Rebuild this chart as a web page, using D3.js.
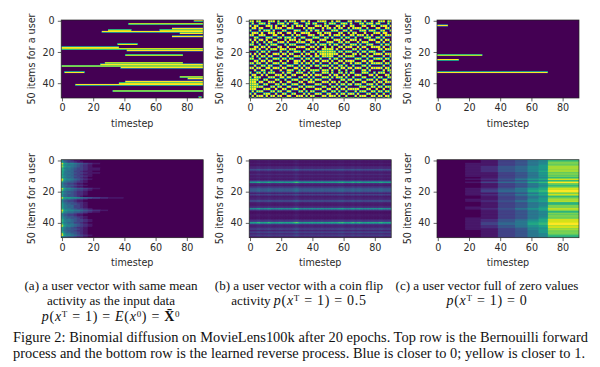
<!DOCTYPE html>
<html>
<head>
<meta charset="utf-8">
<script src="https://cdn.jsdelivr.net/npm/d3@7"></script>
<style>
  html, body { margin: 0; padding: 0; background: #fff; }
  svg { display: block; }
  .tick text, .axis-label { font-family: "DejaVu Sans", sans-serif; font-size: 9.6px; fill: #2a2a2a; }
  .caption { font-family: "Liberation Serif", serif; font-size: 13.1px; fill: #111; }
</style>
</head>
<body>
<div id="chart"></div>
<script>
// Tick labels and titles
const xTicks = [0, 20, 40, 60, 80];
const yTicks = [0, 20, 40];
const xLabel = "timestep";
const yLabel = "50 items for a user";

// Top left: switched-on runs, [row, first column, last column]
const forwardMeanRuns = [
  [0, 85, 90], [2, 43, 90], [5, 71, 90], [6, 30, 44], [6, 63, 90], [7, 26, 90], [8, 76, 90],
  [10, 71, 90], [15, 36, 48], [17, 0, 36], [18, 0, 90], [19, 42, 90], [22, 41, 77],
  [27, 28, 77], [28, 25, 90], [29, 0, 90], [30, 38, 90], [33, 2, 14], [36, 76, 90],
  [37, 81, 90], [39, 41, 90], [40, 37, 90], [41, 9, 90], [45, 33, 90], [49, 88, 89]
];

// Top middle: coin flip activity, 1 is yellow. Single cells cannot be told apart
// in the picture, so this is read in blocks of 1.5 columns by 1.5 rows
const coinBlock = 1.5;
const forwardCoinRows = [
  "1101100011101001011100110100011110010110001101110100100111011",
  "0100111010001110100110001101100010111001110100011011101100010",
  "1011000111010011001011101000111011000110100110001100110011101",
  "0110110001011100111000010111000101101011001011110010001100110",
  "1000101110100011000111001010110100011100110100011101110011001",
  "0111010011101100110100111100011011100011001011000100011101100",
  "1100111000110010001011000111001100101110100110111010100010111",
  "0011000111001101110100110001110011010001011001000111001101000",
  "1010110100110001011101001110001110001110100111010001110010110",
  "0101001011001110100011110011010001110011011000101110001101001",
  "1100100101110001011100001100101110101100100111010011100010110",
  "0011011010001100100011110011010010010011011100101100111101001",
  "1110100101110111011100001100100111110100100011010010000110111",
  "0001011010000100100111010011011111111011011100101101110001000",
  "1010100100111011011000101100101111111100100011010010011110111",
  "0101011011000100100111010010110111110011011110001101100001001",
  "1100100100111011011000101101001000101100100001110010011110110",
  "0011011011000100100111010010110111010011011110001101100001001",
  "1101100100111011000110101101001000101100100101110010111110110",
  "0010011011000100111001010010110111010011010010001101000001001",
  "1101100110111011000110101100001000101101101101110010111110110",
  "0010011001000100111001010011110111010010010010001101000001011",
  "1001101011100010110011100101000111010011010110001110010111001",
  "0110010100011101001100011010111000101100101001110001101000110",
  "1011100011100110110001100101000111010111010010001100010110011",
  "1111001100011001001110011010111000100001101101110011101001100",
  "1110110011100100110001100111000111011010010010001100010110111",
  "1111001100011011001110010000111000100101101101110011101001000",
  "1111110001101100110001101111000110011010010000011100110110111",
  "1110001110010011001110010000111001100101101111100011001001001",
  "0101110001101100110001101011000110011010010001011100110110110",
  "1010001110010011001100010100111001100101101110100011001001001",
  "0101110101101100110011101011000110111010010001011100110110110",
  "1010001010010011001100010100111001000101101110100011001001011"
];

// Top right: switched-on runs
const forwardZeroRuns = [[3, 0, 6], [22, 0, 28], [25, 0, 13], [33, 0, 70]];

// Bottom left: one hex digit per time bin, per row (f is 1)
const reverseMeanEdges = [0, 1, 2, 3, 4, 6, 8, 10, 12, 14, 17, 20, 25, 30, 40, 91];
const reverseMeanRows = [
  "854432110000000", "965433211000000", "fa8877654321000", "c97766543210000", "da8776543210000",
  "a86665433211000", "a97665433211000", "986655332110000", "a86665433211000", "976655332110000",
  "a87665433210000", "976655332100000", "fa8776543210000", "e97665432100000", "865544322100000",
  "754433211000000", "865544322100000", "765443211000000", "ea8776544321000", "c97665433210000",
  "865544322100000", "976554322100000", "865544322100000", "965544321000000", "fa9998876543210",
  "976554322100000", "754433211000000", "865544322100000", "976554432100000", "976655332100000",
  "976655332100000", "a86665433210000", "fa8877665432100", "d97766554321000", "865544322100000",
  "754433211000000", "865544322100000", "976554432100000", "a86665433210000", "a87665433210000",
  "976655332100000", "c97766543210000", "fa8776543210000", "976554322100000", "976554432100000",
  "865544322100000", "a86554432100000", "e97665432100000", "fa8776543210000", "865544322100000"
];

// Bottom middle: row brightness and how each step lifts it
const reverseCoinLevels = [
  0.08, 0.06, 0.08, 0.06, 0.1, 0.12, 0.25, 0.1, 0.08, 0.12,
  0.08, 0.1, 0.08, 0.15, 0.55, 0.12, 0.08, 0.15, 0.25, 0.3,
  0.25, 0.1, 0.2, 0.08, 0.1, 0.12, 0.25, 0.1, 0.08, 0.08,
  0.15, 0.5, 0.12, 0.05, 0.05, 0.08, 0.06, 0.06, 0.1, 0.2,
  0.62, 0.15, 0.1, 0.12, 0.2, 0.1, 0.2, 0.12, 0.18, 0.1
];
const reverseCoinGain = [
  0.95, 0.95, 1, 0.95, 1, 1.1, 1.15, 1, 0.95, 1, 1, 1.05, 1.15, 1.05, 1, 0.95, 0.95, 1,
  1, 1.05, 1.05, 1, 0.95, 1, 1, 1, 1, 1.05, 1.1, 1.25, 1.3, 1.15, 1, 0.95, 0.95, 1,
  1, 0.95, 1, 1, 1.05, 1, 0.95, 1, 1, 1, 1.05, 1, 0.95, 1, 1, 1, 1.05, 1.05, 1,
  1, 1.05, 1.15, 1.1, 1.2, 1.1, 1, 0.95, 1, 1, 1.1, 1.2, 1.05, 1, 1.1, 1.15, 1.05, 1,
  0.95, 1, 1, 1.05, 1, 1, 1.05, 1, 1, 1, 1.1, 1.15, 1.05, 1, 0.95, 1, 1, 1.05
];

// Bottom right: one hex digit per time bin, per row
const reverseZeroEdges = [0, 18, 28, 39, 50, 58, 65, 71, 91];
const reverseZeroRows = [
  "0013467a", "0013467c", "0113467c", "0113468c", "0124578d", "0124578d", "0124578d", "0124579d", "0113468c", "0113468c",
  "0113468c", "0013467a", "0124689e", "0013467a", "013569af", "0013468c", "0013467a", "0013468c", "0124689e", "013569af",
  "013569af", "0113468c", "0124689e", "0013467a", "0013468c", "0113478d", "0124689e", "0013467a", "0013467a", "0013467c",
  "0113468c", "0124689e", "0013468c", "0013467a", "0013467c", "0013467c", "0013467c", "0113468c", "0124579e", "0124689e",
  "013569af", "013569af", "0124689e", "0124578e", "0113478d", "0013468c", "0013468c", "0013467c", "0013467a", "0013467a"
];

// Caption text, runs are [text, style]
const subCaptions = [
  { cx: 111, lines: [
    [["(a) a user vector with same mean", ""]],
    [["activity as the input data", ""]],
    [["p", "i"], ["(", "m"], ["x", "i"], ["T", "sup"], [" = 1) = ", "m"], ["E", "i"], ["(", "m"], ["x", "i"], ["0", "sup"], [") = ", "m"], ["X\u0304", "b"], ["0", "sup"]]
  ]},
  { cx: 299, lines: [
    [["(b) a user vector with a coin flip", ""]],
    [["activity ", ""], ["p", "i"], ["(", "m"], ["x", "i"], ["T", "sup"], [" = 1) = 0.5", "m"]]
  ]},
  { cx: 487, lines: [
    [["(c) a user vector full of zero values", ""]],
    [["p", "i"], ["(", "m"], ["x", "i"], ["T", "sup"], [" = 1) = 0", "m"]]
  ]}
];
const figureCaption = [
  "Figure 2: Binomial diffusion on MovieLens100k after 20 epochs. Top row is the Bernouilli forward",
  "process and the bottom row is the learned reverse process. Blue is closer to 0; yellow is closer to 1."
];

const width = 600;
const height = 367;
const panelW = 142;
const panelH = 78;
const colCount = 91;
const rowCount = 50;

const svg = d3.select("#chart").append("svg")
  .attr("width", width)
  .attr("height", height)
  .attr("viewBox", `0 0 ${width} ${height}`);

const defs = svg.append("defs");

// Cells are drawn as grey values, blurred, then coloured, so a thin line
// goes through the colormap (green, not a dim yellow) like in the reference
const viridisStops = d3.quantize(d3.interpolateViridis, 48).map(c => d3.rgb(c));
const soft = defs.append("filter")
  .attr("id", "soft")
  .attr("x", "-5%").attr("y", "-5%").attr("width", "110%").attr("height", "110%")
  .attr("color-interpolation-filters", "sRGB");
soft.append("feGaussianBlur").attr("stdDeviation", 0.68);
const transfer = soft.append("feComponentTransfer");
[["feFuncR", "r"], ["feFuncG", "g"], ["feFuncB", "b"]].forEach(([node, ch]) => {
  transfer.append(node)
    .attr("type", "table")
    .attr("tableValues", viridisStops.map(c => (c[ch] / 255).toFixed(4)).join(" "));
});

const xScale = d3.scaleLinear().domain([-0.5, colCount - 0.5]).range([0, panelW]);
const yScale = d3.scaleLinear().domain([-0.5, rowCount - 0.5]).range([0, panelH]);
const grey = v => { const k = Math.round(v * 255); return `rgb(${k},${k},${k})`; };

// Turn every panel's data into plain cells {x0, x1, row, rows, v}
function runsToCells(runs) {
  return runs.map(d => ({ x0: d[1] - 0.5, x1: d[2] + 0.5, row: d[0], rows: 1, v: 1 }));
}

function bitsToCells(lines, block) {
  const cells = [];
  lines.forEach((line, r) => {
    line.split("").forEach((ch, c) => {
      if (ch === "1") {
        cells.push({ x0: c * block - 0.5, x1: (c + 1) * block - 0.5, row: r * block, rows: block, v: 1 });
      }
    });
  });
  return cells;
}

function binsToCells(rows, edges) {
  const cells = [];
  rows.forEach((line, r) => {
    line.split("").forEach((ch, b) => {
      cells.push({ x0: edges[b] - 0.5, x1: edges[b + 1] - 0.5, row: r, rows: 1, v: parseInt(ch, 16) / 15 });
    });
  });
  return cells;
}

function levelsToCells(levels, gain) {
  const cells = [];
  levels.forEach((level, r) => {
    gain.forEach((g, c) => {
      cells.push({ x0: c - 0.5, x1: c + 0.5, row: r, rows: 1, v: Math.min(1, level * g) });
    });
  });
  return cells;
}

// seam: overlap for the fully covered panels, otherwise rows show the background between them
const panels = [
  { x: 61.2, y: 20, seam: 0, cells: runsToCells(forwardMeanRuns) },
  { x: 249.2, y: 20, seam: 0, cells: bitsToCells(forwardCoinRows, coinBlock) },
  { x: 437, y: 20, seam: 0, cells: runsToCells(forwardZeroRuns) },
  { x: 61.2, y: 159.7, seam: 0.5, cells: binsToCells(reverseMeanRows, reverseMeanEdges) },
  { x: 249.2, y: 159.7, seam: 0.5, cells: levelsToCells(reverseCoinLevels, reverseCoinGain) },
  { x: 437, y: 159.7, seam: 0.5, cells: binsToCells(reverseZeroRows, reverseZeroEdges) }
];

panels.forEach((panel, i) => {
  const g = svg.append("g").attr("transform", `translate(${panel.x},${panel.y})`);

  defs.append("clipPath").attr("id", `clip${i}`)
    .append("rect").attr("width", panelW).attr("height", panelH);

  const heat = g.append("g").attr("clip-path", `url(#clip${i})`)
    .append("g").attr("filter", "url(#soft)");

  heat.append("rect")
    .attr("x", -3).attr("y", -3)
    .attr("width", panelW + 6).attr("height", panelH + 6)
    .attr("fill", "#000");

  // Cells on the outer rows and last column run on past the frame so the blur does not dim the edge
  const over = panel.seam ? 3 : 0;
  heat.selectAll("rect.cell")
    .data(panel.cells)
    .join("rect")
    .attr("class", "cell")
    .attr("x", d => xScale(d.x0) - (d.x0 < 0 ? over : 0))
    .attr("y", d => yScale(d.row - 0.5) - (d.row === 0 ? over : 0))
    .attr("width", d => xScale(d.x1) - xScale(d.x0) + panel.seam + (d.x0 < 0 || d.x1 >= colCount - 0.5 ? over : 0))
    .attr("height", d => yScale(d.rows - 0.5) - yScale(-0.5) + panel.seam + (d.row === 0 || d.row === rowCount - 1 ? over : 0))
    .attr("fill", d => grey(d.v));

  // Frame
  g.append("rect")
    .attr("width", panelW).attr("height", panelH)
    .attr("fill", "none")
    .attr("stroke", "#222")
    .attr("stroke-width", 0.7);

  const xAxis = d3.axisBottom(xScale).tickValues(xTicks).tickSize(3.4).tickPadding(3.2).tickSizeOuter(0);
  const yAxis = d3.axisLeft(yScale).tickValues(yTicks).tickSize(3.4).tickPadding(3.2).tickSizeOuter(0);

  const gx = g.append("g").attr("transform", `translate(0,${panelH})`).call(xAxis);
  const gy = g.append("g").call(yAxis);
  [gx, gy].forEach(a => {
    a.attr("font-family", null).attr("font-size", null);
    a.select(".domain").remove();
    a.selectAll("line").attr("stroke", "#222").attr("stroke-width", 0.7);
  });

  g.append("text")
    .attr("class", "axis-label")
    .attr("x", panelW / 2)
    .attr("y", panelH + 28.5)
    .attr("text-anchor", "middle")
    .text(xLabel);

  g.append("text")
    .attr("class", "axis-label")
    .attr("transform", `translate(-26,${panelH / 2}) rotate(-90)`)
    .attr("text-anchor", "middle")
    .text(yLabel);
});

// Write one caption line, switching style run by run
function writeRuns(text, runs) {
  let pendingDy = 0;
  runs.forEach(run => {
    const span = text.append("tspan").text(run[0]);
    const style = run[1];
    if (style !== "") span.style("font-size", style === "sup" ? "9px" : "14px").attr("letter-spacing", 0.7);
    if (style === "i") span.attr("font-style", "italic");
    if (style === "b") span.attr("font-weight", "bold");
    if (style === "sup") {
      span.attr("dy", -4);
      pendingDy = 4;
    } else if (pendingDy) {
      span.attr("dy", pendingDy);
      pendingDy = 0;
    }
  });
}

const subLineY = [289.5, 305, 320.5];
subCaptions.forEach(sub => {
  sub.lines.forEach((runs, i) => {
    const text = svg.append("text")
      .attr("class", "caption")
      .attr("x", sub.cx)
      .attr("y", subLineY[i])
      .attr("text-anchor", "middle");
    writeRuns(text, runs);
  });
});

const figureLineWidths = [575, 572];
svg.selectAll("text.figure-line")
  .data(figureCaption)
  .join("text")
  .attr("class", "caption figure-line")
  .attr("x", 13)
  .attr("y", (d, i) => 342 + i * 16)
  .attr("textLength", (d, i) => figureLineWidths[i])
  .attr("lengthAdjust", "spacing")
  .style("font-size", "14.4px")
  .text(d => d);
</script>
</body>
</html>
